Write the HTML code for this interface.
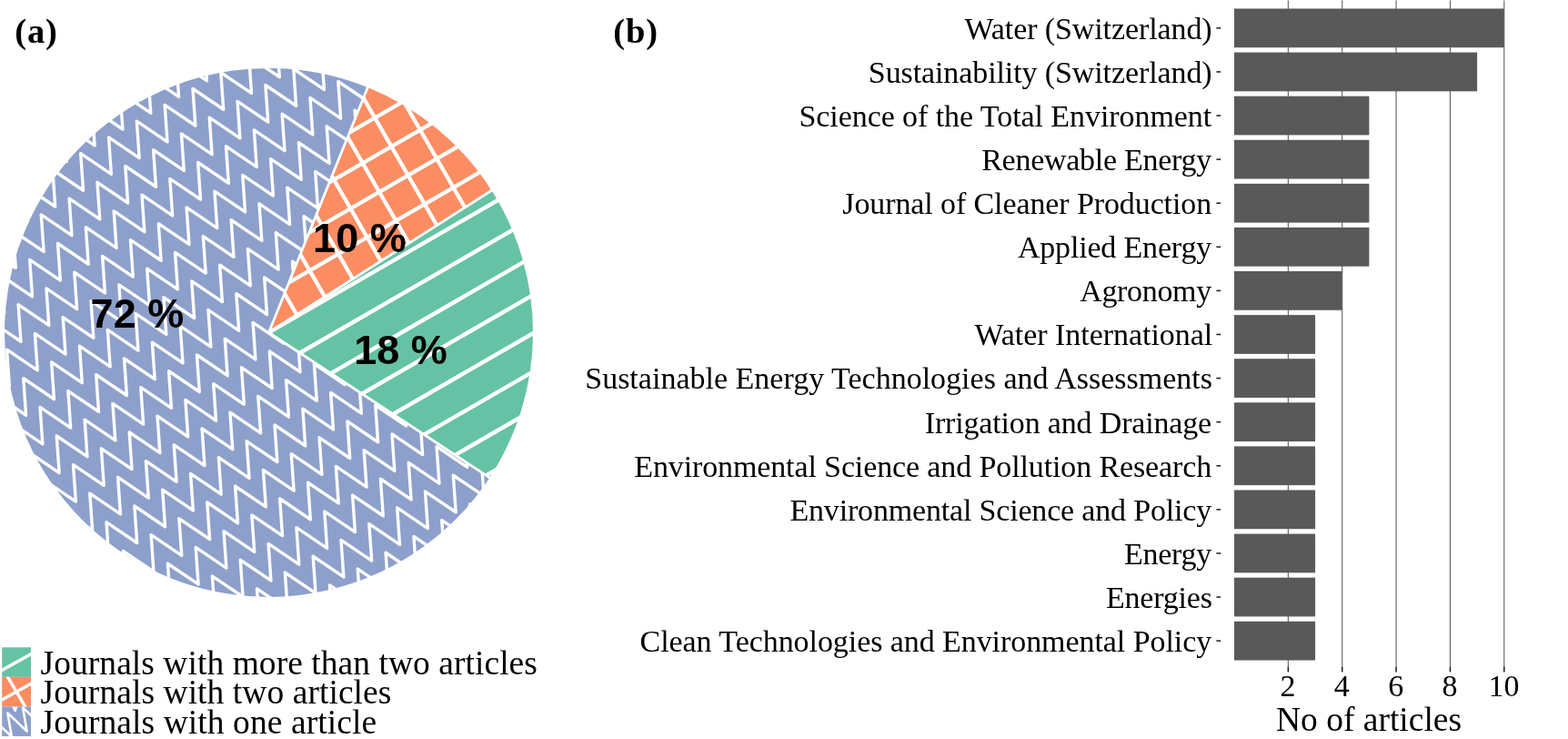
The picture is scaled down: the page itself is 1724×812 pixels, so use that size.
<!DOCTYPE html>
<html lang="en">
<head>
<meta charset="utf-8">
<title>Journal distribution</title>
<style>
html,body{margin:0;padding:0;background:#fff;}
body{width:1724px;height:812px;overflow:hidden;}
svg{display:block;}
</style>
</head>
<body>
<svg width="1724" height="812" viewBox="0 0 1724 812" role="img" aria-label="Pie chart of journal shares and bar chart of number of articles per journal">
<defs>
<clipPath id="cg"><path d="M295.5 365.4L539.35 525.58A291.75 291.75 0 0 0 541.56 208.64Z"/></clipPath>
<clipPath id="co"><path d="M295.5 365.4L541.56 208.64A291.75 291.75 0 0 0 404.79 94.89Z"/></clipPath>
<clipPath id="cb"><path d="M295.5 365.4L404.79 94.89A291.75 291.75 0 1 0 539.35 525.58Z"/></clipPath>
</defs>
<rect width="1724" height="812" fill="#fff"/>
<g id="pie">
<path d="M295.5 365.4L404.79 94.89A291.75 291.75 0 1 0 539.35 525.58Z" fill="#8DA0CB"/>
<path d="M295.5 365.4L541.56 208.64A291.75 291.75 0 0 0 404.79 94.89Z" fill="#FC8D62"/>
<path d="M295.5 365.4L539.35 525.58A291.75 291.75 0 0 0 541.56 208.64Z" fill="#66C2A5"/>
<path clip-path="url(#cg)" d="M295.5 365.4L556.82 214.53M313.75 397.01L575.07 246.13M277.25 333.79L538.57 182.92M332 428.62L593.32 277.74M259 302.18L520.32 151.31M350.25 460.23L611.57 309.35M240.75 270.57L502.07 119.7M368.5 491.84L629.82 340.96M222.5 238.96L483.82 88.09M386.75 523.45L648.07 372.57M204.25 207.35L465.57 56.48M405 555.06L666.32 404.18M186 175.74L447.32 24.87M423.25 586.67L684.57 435.79M167.75 144.13L429.07 -6.74M441.5 618.28L702.82 467.4M149.5 112.52L410.82 -38.35M459.75 649.89L721.07 499.01M131.25 80.91L392.57 -69.96" stroke="#fff" stroke-width="4.4" fill="none"/>
<path clip-path="url(#co)" d="M-130.07 231.79L392.57 -69.96M-139.86 268.33L161.89 790.97M-111.82 263.4L410.82 -38.35M-108.25 250.08L193.5 772.72M-93.57 295.01L429.07 -6.74M-76.64 231.83L225.11 754.47M-75.32 326.62L447.32 24.87M-45.03 213.58L256.72 736.22M-57.07 358.23L465.57 56.48M-13.42 195.33L288.33 717.97M-38.82 389.84L483.82 88.09M18.19 177.08L319.94 699.72M-20.57 421.45L502.07 119.7M49.8 158.83L351.55 681.47M-2.32 453.06L520.32 151.31M81.41 140.58L383.16 663.22M15.93 484.67L538.57 182.92M113.02 122.33L414.77 644.97M34.18 516.27L556.82 214.53M144.63 104.08L446.38 626.72M52.43 547.88L575.07 246.13M176.23 85.83L477.98 608.47M70.68 579.49L593.32 277.74M207.84 67.58L509.59 590.22M88.93 611.1L611.57 309.35M239.45 49.33L541.2 571.97M107.18 642.71L629.82 340.96M271.06 31.08L572.81 553.72M125.43 674.32L648.07 372.57M302.67 12.83L604.42 535.47M143.68 705.93L666.32 404.18M334.28 -5.42L636.03 517.22M161.93 737.54L684.57 435.79M365.89 -23.67L667.64 498.97M180.18 769.15L702.82 467.4M397.5 -41.92L699.25 480.72M198.43 800.76L721.07 499.01M429.11 -60.17L730.86 462.47" stroke="#fff" stroke-width="4.3" fill="none"/>
<path clip-path="url(#cb)" d="M-160.8 270.6L-163.64 230.09L-129.97 252.8L-132.81 212.29L-99.14 235L-101.98 194.49L-68.31 217.2L-71.15 176.69L-37.48 199.4L-40.32 158.89L-6.65 181.6L-9.48 141.09L24.18 163.8L21.35 123.29L55.01 146L52.18 105.49L85.84 128.2L83.01 87.69L116.67 110.4L113.84 69.89L147.5 92.6L144.67 52.09L178.33 74.8L175.5 34.29L209.16 57L206.33 16.49L239.99 39.2L237.16 -1.31L270.82 21.4L267.99 -19.11L301.65 3.6L298.82 -36.91L332.49 -14.2L329.65 -54.71L363.32 -32L360.48 -72.51L394.15 -49.8L391.31 -90.31L424.98 -67.6L422.14 -108.11L455.81 -85.4M-142.55 302.21L-145.39 261.7L-111.72 284.41L-114.56 243.9L-80.89 266.61L-83.73 226.1L-50.06 248.81L-52.9 208.3L-19.23 231.01L-22.07 190.5L11.6 213.21L8.77 172.7L42.43 195.41L39.6 154.9L73.26 177.61L70.43 137.1L104.09 159.81L101.26 119.3L134.92 142.01L132.09 101.5L165.75 124.21L162.92 83.7L196.58 106.41L193.75 65.9L227.41 88.61L224.58 48.1L258.24 70.81L255.41 30.3L289.07 53.01L286.24 12.5L319.9 35.21L317.07 -5.3L350.74 17.41L347.9 -23.1L381.57 -0.39L378.73 -40.9L412.4 -18.19L409.56 -58.7L443.23 -35.99L440.39 -76.5L474.06 -53.79M-124.3 333.82L-127.14 293.31L-93.47 316.02L-96.31 275.51L-62.64 298.22L-65.48 257.71L-31.81 280.42L-34.65 239.91L-0.98 262.62L-3.82 222.11L29.85 244.82L27.02 204.31L60.68 227.02L57.85 186.51L91.51 209.22L88.68 168.71L122.34 191.42L119.51 150.91L153.17 173.62L150.34 133.11L184 155.82L181.17 115.31L214.83 138.02L212 97.51L245.66 120.22L242.83 79.71L276.49 102.42L273.66 61.91L307.32 84.62L304.49 44.11L338.15 66.82L335.32 26.31L368.99 49.02L366.15 8.51L399.82 31.22L396.98 -9.29L430.65 13.42L427.81 -27.09L461.48 -4.38L458.64 -44.89L492.31 -22.18M-106.05 365.43L-108.89 324.92L-75.22 347.63L-78.06 307.12L-44.39 329.83L-47.23 289.32L-13.56 312.03L-16.4 271.52L17.27 294.23L14.43 253.72L48.1 276.43L45.27 235.92L78.93 258.63L76.1 218.12L109.76 240.83L106.93 200.32L140.59 223.03L137.76 182.52L171.42 205.23L168.59 164.72L202.25 187.43L199.42 146.92L233.08 169.63L230.25 129.12L263.91 151.83L261.08 111.32L294.74 134.03L291.91 93.52L325.57 116.23L322.74 75.72L356.4 98.43L353.57 57.92L387.24 80.63L384.4 40.12L418.07 62.83L415.23 22.32L448.9 45.03L446.06 4.52L479.73 27.23L476.89 -13.28L510.56 9.43M-87.8 397.04L-90.64 356.53L-56.97 379.24L-59.81 338.73L-26.14 361.44L-28.98 320.93L4.69 343.64L1.85 303.13L35.52 325.84L32.68 285.33L66.35 308.04L63.52 267.53L97.18 290.24L94.35 249.73L128.01 272.44L125.18 231.93L158.84 254.64L156.01 214.13L189.67 236.84L186.84 196.33L220.5 219.04L217.67 178.53L251.33 201.24L248.5 160.73L282.16 183.44L279.33 142.93L312.99 165.64L310.16 125.13L343.82 147.84L340.99 107.33L374.65 130.04L371.82 89.53L405.49 112.24L402.65 71.73L436.32 94.44L433.48 53.93L467.15 76.64L464.31 36.13L497.98 58.84L495.14 18.33L528.81 41.04M-69.55 428.65L-72.39 388.14L-38.72 410.85L-41.56 370.34L-7.89 393.05L-10.73 352.54L22.94 375.25L20.1 334.74L53.77 357.45L50.93 316.94L84.6 339.65L81.77 299.14L115.43 321.85L112.6 281.34L146.26 304.05L143.43 263.54L177.09 286.25L174.26 245.74L207.92 268.45L205.09 227.94L238.75 250.65L235.92 210.14L269.58 232.85L266.75 192.34L300.41 215.05L297.58 174.54L331.24 197.25L328.41 156.74L362.07 179.45L359.24 138.94L392.9 161.65L390.07 121.14L423.74 143.85L420.9 103.34L454.57 126.05L451.73 85.54L485.4 108.25L482.56 67.74L516.23 90.45L513.39 49.94L547.06 72.65M-51.3 460.26L-54.14 419.75L-20.47 442.46L-23.31 401.95L10.36 424.66L7.52 384.15L41.19 406.86L38.35 366.35L72.02 389.06L69.18 348.55L102.85 371.26L100.02 330.75L133.68 353.46L130.85 312.95L164.51 335.66L161.68 295.15L195.34 317.86L192.51 277.35L226.17 300.06L223.34 259.55L257 282.26L254.17 241.75L287.83 264.46L285 223.95L318.66 246.66L315.83 206.15L349.49 228.86L346.66 188.35L380.32 211.06L377.49 170.55L411.15 193.26L408.32 152.75L441.99 175.46L439.15 134.95L472.82 157.66L469.98 117.15L503.65 139.86L500.81 99.35L534.48 122.06L531.64 81.55L565.31 104.26M-33.05 491.87L-35.89 451.36L-2.22 474.07L-5.06 433.56L28.61 456.27L25.77 415.76L59.44 438.47L56.6 397.96L90.27 420.67L87.43 380.16L121.1 402.87L118.27 362.36L151.93 385.07L149.1 344.56L182.76 367.27L179.93 326.76L213.59 349.47L210.76 308.96L244.42 331.67L241.59 291.16L275.25 313.87L272.42 273.36L306.08 296.07L303.25 255.56L336.91 278.27L334.08 237.76L367.74 260.47L364.91 219.96L398.57 242.67L395.74 202.16L429.4 224.87L426.57 184.36L460.24 207.07L457.4 166.56L491.07 189.27L488.23 148.76L521.9 171.47L519.06 130.96L552.73 153.67L549.89 113.16L583.56 135.87M-14.8 523.48L-17.64 482.97L16.03 505.68L13.19 465.17L46.86 487.88L44.02 447.37L77.69 470.08L74.85 429.57L108.52 452.28L105.68 411.77L139.35 434.48L136.52 393.97L170.18 416.68L167.35 376.17L201.01 398.88L198.18 358.37L231.84 381.08L229.01 340.57L262.67 363.28L259.84 322.77L293.5 345.48L290.67 304.97L324.33 327.68L321.5 287.17L355.16 309.88L352.33 269.37L385.99 292.08L383.16 251.57L416.82 274.28L413.99 233.77L447.65 256.48L444.82 215.97L478.49 238.68L475.65 198.17L509.32 220.88L506.48 180.37L540.15 203.08L537.31 162.57L570.98 185.28L568.14 144.77L601.81 167.48M3.45 555.09L0.61 514.58L34.28 537.29L31.44 496.78L65.11 519.49L62.27 478.98L95.94 501.69L93.1 461.18L126.77 483.89L123.93 443.38L157.6 466.09L154.77 425.58L188.43 448.29L185.6 407.78L219.26 430.49L216.43 389.98L250.09 412.69L247.26 372.18L280.92 394.89L278.09 354.38L311.75 377.09L308.92 336.58L342.58 359.29L339.75 318.78L373.41 341.49L370.58 300.98L404.24 323.69L401.41 283.18L435.07 305.89L432.24 265.38L465.9 288.09L463.07 247.58L496.74 270.29L493.9 229.78L527.57 252.49L524.73 211.98L558.4 234.69L555.56 194.18L589.23 216.89L586.39 176.38L620.06 199.09M21.7 586.7L18.86 546.19L52.53 568.9L49.69 528.39L83.36 551.1L80.52 510.59L114.19 533.3L111.35 492.79L145.02 515.5L142.18 474.99L175.85 497.7L173.02 457.19L206.68 479.9L203.85 439.39L237.51 462.1L234.68 421.59L268.34 444.3L265.51 403.79L299.17 426.5L296.34 385.99L330 408.7L327.17 368.19L360.83 390.9L358 350.39L391.66 373.1L388.83 332.59L422.49 355.3L419.66 314.79L453.32 337.5L450.49 296.99L484.15 319.7L481.32 279.19L514.99 301.9L512.15 261.39L545.82 284.1L542.98 243.59L576.65 266.3L573.81 225.79L607.48 248.5L604.64 207.99L638.31 230.7M39.95 618.31L37.11 577.8L70.78 600.51L67.94 560L101.61 582.71L98.77 542.2L132.44 564.91L129.6 524.4L163.27 547.11L160.43 506.6L194.1 529.31L191.27 488.8L224.93 511.51L222.1 471L255.76 493.71L252.93 453.2L286.59 475.91L283.76 435.4L317.42 458.11L314.59 417.6L348.25 440.31L345.42 399.8L379.08 422.51L376.25 382L409.91 404.71L407.08 364.2L440.74 386.91L437.91 346.4L471.57 369.11L468.74 328.6L502.4 351.31L499.57 310.8L533.24 333.51L530.4 293L564.07 315.71L561.23 275.2L594.9 297.91L592.06 257.4L625.73 280.11L622.89 239.6L656.56 262.31M58.2 649.92L55.36 609.41L89.03 632.12L86.19 591.61L119.86 614.32L117.02 573.81L150.69 596.52L147.85 556.01L181.52 578.72L178.68 538.21L212.35 560.92L209.52 520.41L243.18 543.12L240.35 502.61L274.01 525.32L271.18 484.81L304.84 507.52L302.01 467.01L335.67 489.72L332.84 449.21L366.5 471.92L363.67 431.41L397.33 454.12L394.5 413.61L428.16 436.32L425.33 395.81L458.99 418.52L456.16 378.01L489.82 400.72L486.99 360.21L520.65 382.92L517.82 342.41L551.49 365.12L548.65 324.61L582.32 347.32L579.48 306.81L613.15 329.52L610.31 289.01L643.98 311.72L641.14 271.21L674.81 293.92M76.45 681.53L73.61 641.02L107.28 663.73L104.44 623.22L138.11 645.93L135.27 605.42L168.94 628.13L166.1 587.62L199.77 610.33L196.93 569.82L230.6 592.53L227.77 552.02L261.43 574.73L258.6 534.22L292.26 556.93L289.43 516.42L323.09 539.13L320.26 498.62L353.92 521.33L351.09 480.82L384.75 503.53L381.92 463.02L415.58 485.73L412.75 445.22L446.41 467.93L443.58 427.42L477.24 450.13L474.41 409.62L508.07 432.33L505.24 391.82L538.9 414.53L536.07 374.02L569.74 396.73L566.9 356.22L600.57 378.93L597.73 338.42L631.4 361.13L628.56 320.62L662.23 343.33L659.39 302.82L693.06 325.53M94.7 713.14L91.86 672.63L125.53 695.34L122.69 654.83L156.36 677.54L153.52 637.03L187.19 659.74L184.35 619.23L218.02 641.94L215.18 601.43L248.85 624.14L246.02 583.63L279.68 606.34L276.85 565.83L310.51 588.54L307.68 548.03L341.34 570.74L338.51 530.23L372.17 552.94L369.34 512.43L403 535.14L400.17 494.63L433.83 517.34L431 476.83L464.66 499.54L461.83 459.03L495.49 481.74L492.66 441.23L526.32 463.94L523.49 423.43L557.15 446.14L554.32 405.63L587.99 428.34L585.15 387.83L618.82 410.54L615.98 370.03L649.65 392.74L646.81 352.23L680.48 374.94L677.64 334.43L711.31 357.14M112.95 744.75L110.11 704.24L143.78 726.95L140.94 686.44L174.61 709.15L171.77 668.64L205.44 691.35L202.6 650.84L236.27 673.55L233.43 633.04L267.1 655.75L264.27 615.24L297.93 637.95L295.1 597.44L328.76 620.15L325.93 579.64L359.59 602.35L356.76 561.84L390.42 584.55L387.59 544.04L421.25 566.75L418.42 526.24L452.08 548.95L449.25 508.44L482.91 531.15L480.08 490.64L513.74 513.35L510.91 472.84L544.57 495.55L541.74 455.04L575.4 477.75L572.57 437.24L606.24 459.95L603.4 419.44L637.07 442.15L634.23 401.64L667.9 424.35L665.06 383.84L698.73 406.55L695.89 366.04L729.56 388.75M131.2 776.36L128.36 735.85L162.03 758.56L159.19 718.05L192.86 740.76L190.02 700.25L223.69 722.96L220.85 682.45L254.52 705.16L251.68 664.65L285.35 687.36L282.52 646.85L316.18 669.56L313.35 629.05L347.01 651.76L344.18 611.25L377.84 633.96L375.01 593.45L408.67 616.16L405.84 575.65L439.5 598.36L436.67 557.85L470.33 580.56L467.5 540.05L501.16 562.76L498.33 522.25L531.99 544.96L529.16 504.45L562.82 527.16L559.99 486.65L593.65 509.36L590.82 468.85L624.49 491.56L621.65 451.05L655.32 473.76L652.48 433.25L686.15 455.96L683.31 415.45L716.98 438.16L714.14 397.65L747.81 420.36M149.45 807.97L146.61 767.46L180.28 790.17L177.44 749.66L211.11 772.37L208.27 731.86L241.94 754.57L239.1 714.06L272.77 736.77L269.93 696.26L303.6 718.97L300.77 678.46L334.43 701.17L331.6 660.66L365.26 683.37L362.43 642.86L396.09 665.57L393.26 625.06L426.92 647.77L424.09 607.26L457.75 629.97L454.92 589.46L488.58 612.17L485.75 571.66L519.41 594.37L516.58 553.86L550.24 576.57L547.41 536.06L581.07 558.77L578.24 518.26L611.9 540.97L609.07 500.46L642.74 523.17L639.9 482.66L673.57 505.37L670.73 464.86L704.4 487.57L701.56 447.06L735.23 469.77L732.39 429.26L766.06 451.97M167.7 839.58L164.86 799.07L198.53 821.78L195.69 781.27L229.36 803.98L226.52 763.47L260.19 786.18L257.35 745.67L291.02 768.38L288.18 727.87L321.85 750.58L319.02 710.07L352.68 732.78L349.85 692.27L383.51 714.98L380.68 674.47L414.34 697.18L411.51 656.67L445.17 679.38L442.34 638.87L476 661.58L473.17 621.07L506.83 643.78L504 603.27L537.66 625.98L534.83 585.47L568.49 608.18L565.66 567.67L599.32 590.38L596.49 549.87L630.15 572.58L627.32 532.07L660.99 554.78L658.15 514.27L691.82 536.98L688.98 496.47L722.65 519.18L719.81 478.67L753.48 501.38L750.64 460.87L784.31 483.58" stroke="#fff" stroke-width="3.4" fill="none" stroke-linejoin="round"/>
<path d="M295.5 365.4L404.79 94.89A291.75 291.75 0 1 0 539.35 525.58Z" fill="none" stroke="#fff" stroke-width="2.5" stroke-linejoin="round"/>
<path d="M295.5 365.4L541.56 208.64A291.75 291.75 0 0 0 404.79 94.89Z" fill="none" stroke="#fff" stroke-width="2.5" stroke-linejoin="round"/>
<path d="M295.5 365.4L539.35 525.58A291.75 291.75 0 0 0 541.56 208.64Z" fill="none" stroke="#fff" stroke-width="2.5" stroke-linejoin="round"/>
</g>
<g font-family="'Liberation Sans', Arial, Helvetica, sans-serif" font-weight="700" font-size="45" fill="#000" text-anchor="middle">
<text x="150.9" y="360">72 %</text>
<text x="395.4" y="277.2">10 %</text>
<text x="440.6" y="399.8">18 %</text>
</g>
<g font-family="'Liberation Serif', 'Times New Roman', Times, serif" fill="#000">
<text x="16.2" y="47.3" font-weight="700" letter-spacing="0.9" font-size="38.5">(a)</text>
<text x="674.3" y="47.3" font-weight="700" letter-spacing="0.9" font-size="38.5">(b)</text>
<text x="44.6" y="740.5" font-size="37.5" textLength="546.3" lengthAdjust="spacing">Journals with more than two articles</text>
<text x="44.6" y="773.4" font-size="37.5" textLength="385.8" lengthAdjust="spacing">Journals with two articles</text>
<text x="44.6" y="806.3" font-size="37.5" textLength="369.5" lengthAdjust="spacing">Journals with one article</text>
<g font-size="34" text-anchor="end">
<text x="1332.6" y="42.76" textLength="272.01" lengthAdjust="spacing">Water (Switzerland)</text>
<text x="1332.6" y="90.85" textLength="377.75" lengthAdjust="spacing">Sustainability (Switzerland)</text>
<text x="1332.2" y="138.94" textLength="453.77" lengthAdjust="spacing">Science of the Total Environment</text>
<text x="1332.2" y="187.03" textLength="253.01" lengthAdjust="spacing">Renewable Energy</text>
<text x="1332.2" y="235.12" textLength="405.95" lengthAdjust="spacing">Journal of Cleaner Production</text>
<text x="1332.2" y="283.22" textLength="213.31" lengthAdjust="spacing">Applied Energy</text>
<text x="1332.2" y="331.31" textLength="145.03" lengthAdjust="spacing">Agronomy</text>
<text x="1333.2" y="379.4" textLength="261.72" lengthAdjust="spacing">Water International</text>
<text x="1333" y="427.49" textLength="689.8" lengthAdjust="spacing">Sustainable Energy Technologies and Assessments</text>
<text x="1332.2" y="475.58" textLength="315.48" lengthAdjust="spacing">Irrigation and Drainage</text>
<text x="1332.2" y="523.68" textLength="634.96" lengthAdjust="spacing">Environmental Science and Pollution Research</text>
<text x="1332.2" y="571.77" textLength="463.76" lengthAdjust="spacing">Environmental Science and Policy</text>
<text x="1332.2" y="619.86" textLength="96.17" lengthAdjust="spacing">Energy</text>
<text x="1333" y="667.95" textLength="117.04" lengthAdjust="spacing">Energies</text>
<text x="1332.2" y="716.04" textLength="628.62" lengthAdjust="spacing">Clean Technologies and Environmental Policy</text>
</g>
<g font-size="34" text-anchor="middle">
<text x="1415.96" y="765.1">2</text>
<text x="1475.32" y="765.1">4</text>
<text x="1534.68" y="765.1">6</text>
<text x="1594.04" y="765.1">8</text>
<text x="1653.4" y="765.1">10</text>
</g>
<text x="1505" y="803" font-size="37.5" text-anchor="middle">No of articles</text>
</g>
<g id="keys">
<clipPath id="k0"><rect x="2.2" y="711.3" width="31.8" height="32.55"/></clipPath>
<rect x="2.2" y="711.3" width="31.8" height="32.55" fill="#66C2A5"/>
<clipPath id="k1"><rect x="2.2" y="743.85" width="31.8" height="32.55"/></clipPath>
<rect x="2.2" y="743.85" width="31.8" height="32.55" fill="#FC8D62"/>
<clipPath id="k2"><rect x="2.2" y="776.4" width="31.8" height="32.55"/></clipPath>
<rect x="2.2" y="776.4" width="31.8" height="32.55" fill="#8DA0CB"/>
<path clip-path="url(#k0)" d="M0.2 737.5L36 717.65" stroke="#fff" stroke-width="3.4" fill="none"/>
<path clip-path="url(#k1)" d="M0.2 770.05L36 750.2M7.35 741.85L28.85 778.4" stroke="#fff" stroke-width="3.4" fill="none"/>
<path clip-path="url(#k2)" d="M-8.4 789.2L12.8 809.4L8.37 783.33L29.56 803.53L25.12 777.42L46.3 797.6M12.3 772L16.75 780.9L19 772" stroke="#fff" stroke-width="2.6" fill="none" stroke-linejoin="round"/>
</g>
<g id="bars">
<line x1="1416.36" y1="0.4" x2="1416.36" y2="733.5" stroke="#5e5e5e" stroke-width="1.1"/>
<line x1="1416.36" y1="732.8" x2="1416.36" y2="738.4" stroke="#1a1a1a" stroke-width="1.5"/>
<line x1="1475.72" y1="0.4" x2="1475.72" y2="733.5" stroke="#5e5e5e" stroke-width="1.1"/>
<line x1="1475.72" y1="732.8" x2="1475.72" y2="738.4" stroke="#1a1a1a" stroke-width="1.5"/>
<line x1="1535.08" y1="0.4" x2="1535.08" y2="733.5" stroke="#5e5e5e" stroke-width="1.1"/>
<line x1="1535.08" y1="732.8" x2="1535.08" y2="738.4" stroke="#1a1a1a" stroke-width="1.5"/>
<line x1="1594.44" y1="0.4" x2="1594.44" y2="733.5" stroke="#5e5e5e" stroke-width="1.1"/>
<line x1="1594.44" y1="732.8" x2="1594.44" y2="738.4" stroke="#1a1a1a" stroke-width="1.5"/>
<line x1="1653.8" y1="0.4" x2="1653.8" y2="733.5" stroke="#5e5e5e" stroke-width="1.1"/>
<line x1="1653.8" y1="732.8" x2="1653.8" y2="738.4" stroke="#1a1a1a" stroke-width="1.5"/>
<rect x="1357" y="9.48" width="296.8" height="42.75" fill="#595959"/>
<line x1="1337.4" y1="30.86" x2="1342.2" y2="30.86" stroke="#1a1a1a" stroke-width="1.5"/>
<rect x="1357" y="57.57" width="267.12" height="42.75" fill="#595959"/>
<line x1="1337.4" y1="78.95" x2="1342.2" y2="78.95" stroke="#1a1a1a" stroke-width="1.5"/>
<rect x="1357" y="105.66" width="148.4" height="42.75" fill="#595959"/>
<line x1="1337.4" y1="127.04" x2="1342.2" y2="127.04" stroke="#1a1a1a" stroke-width="1.5"/>
<rect x="1357" y="153.75" width="148.4" height="42.75" fill="#595959"/>
<line x1="1337.4" y1="175.13" x2="1342.2" y2="175.13" stroke="#1a1a1a" stroke-width="1.5"/>
<rect x="1357" y="201.85" width="148.4" height="42.75" fill="#595959"/>
<line x1="1337.4" y1="223.22" x2="1342.2" y2="223.22" stroke="#1a1a1a" stroke-width="1.5"/>
<rect x="1357" y="249.94" width="148.4" height="42.75" fill="#595959"/>
<line x1="1337.4" y1="271.32" x2="1342.2" y2="271.32" stroke="#1a1a1a" stroke-width="1.5"/>
<rect x="1357" y="298.03" width="118.72" height="42.75" fill="#595959"/>
<line x1="1337.4" y1="319.41" x2="1342.2" y2="319.41" stroke="#1a1a1a" stroke-width="1.5"/>
<rect x="1357" y="346.12" width="89.04" height="42.75" fill="#595959"/>
<line x1="1337.4" y1="367.5" x2="1342.2" y2="367.5" stroke="#1a1a1a" stroke-width="1.5"/>
<rect x="1357" y="394.22" width="89.04" height="42.75" fill="#595959"/>
<line x1="1337.4" y1="415.59" x2="1342.2" y2="415.59" stroke="#1a1a1a" stroke-width="1.5"/>
<rect x="1357" y="442.31" width="89.04" height="42.75" fill="#595959"/>
<line x1="1337.4" y1="463.68" x2="1342.2" y2="463.68" stroke="#1a1a1a" stroke-width="1.5"/>
<rect x="1357" y="490.4" width="89.04" height="42.75" fill="#595959"/>
<line x1="1337.4" y1="511.78" x2="1342.2" y2="511.78" stroke="#1a1a1a" stroke-width="1.5"/>
<rect x="1357" y="538.49" width="89.04" height="42.75" fill="#595959"/>
<line x1="1337.4" y1="559.87" x2="1342.2" y2="559.87" stroke="#1a1a1a" stroke-width="1.5"/>
<rect x="1357" y="586.58" width="89.04" height="42.75" fill="#595959"/>
<line x1="1337.4" y1="607.96" x2="1342.2" y2="607.96" stroke="#1a1a1a" stroke-width="1.5"/>
<rect x="1357" y="634.68" width="89.04" height="42.75" fill="#595959"/>
<line x1="1337.4" y1="656.05" x2="1342.2" y2="656.05" stroke="#1a1a1a" stroke-width="1.5"/>
<rect x="1357" y="682.77" width="89.04" height="42.75" fill="#595959"/>
<line x1="1337.4" y1="704.14" x2="1342.2" y2="704.14" stroke="#1a1a1a" stroke-width="1.5"/>
</g>
</svg>
</body>
</html>
